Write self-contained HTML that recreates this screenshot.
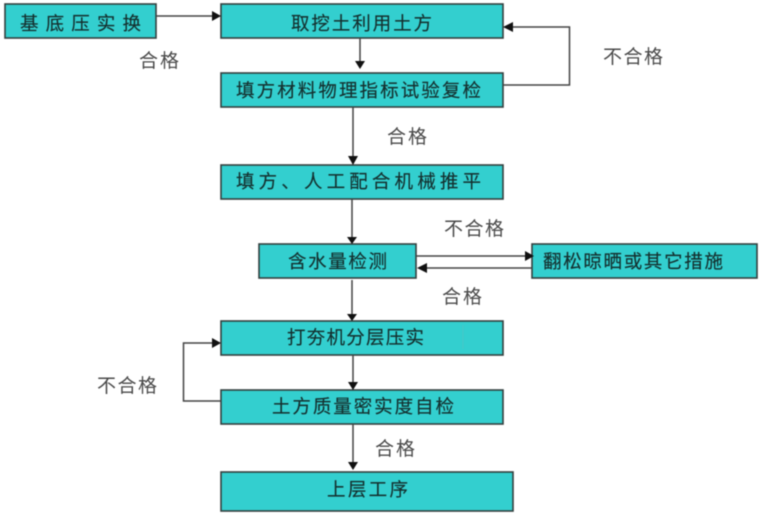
<!DOCTYPE html>
<html>
<head>
<meta charset="utf-8">
<style>
html,body{margin:0;padding:0;background:#fff}
body{width:760px;height:516px;overflow:hidden}
svg{display:block;filter:blur(0.45px)}
text{font-family:"Liberation Sans","Noto Sans CJK SC",sans-serif}
.b text{font-size:18.5px;fill:#14302f;stroke:#14302f;stroke-width:0.15}
.l text{font-size:19px;fill:#4a4a4a}
rect{fill:#33cfcf;stroke:#34403f;stroke-width:1.6}
.c{fill:none;stroke:#444;stroke-width:1.5}
.a{fill:#111}
</style>
</head>
<body>
<svg width="760" height="516" viewBox="0 0 760 516">
<rect x="5" y="4" width="151" height="34"/>
<rect x="221" y="4" width="282" height="34"/>
<rect x="221" y="73" width="282" height="34"/>
<rect x="221" y="165" width="282" height="34"/>
<rect x="259" y="244" width="157" height="34"/>
<rect x="532" y="244" width="225" height="34"/>
<rect x="221" y="321" width="282" height="34"/>
<rect x="221" y="390" width="282" height="34"/>
<rect x="221" y="472" width="292" height="39"/>
<path d="M463 325V349" fill="none" stroke="#4fc4c4" stroke-width="0.8"/>

<path class="c" d="M156 16H214"/><path class="a" d="M212 11L221 16L212 21Z"/>
<path class="c" d="M360 38V62"/><path class="a" d="M355 61H365L360 69Z"/>
<path class="c" d="M503 85H569.500V27H510"/><path class="a" d="M513 22V32L503 27Z"/>
<path class="c" d="M353 107V158"/><path class="a" d="M348 156H358L353 165Z"/>
<path class="c" d="M352 199V237"/><path class="a" d="M347 237H357L352 244Z"/>
<path class="c" d="M416 256H525"/><path class="a" d="M525 251L534 256L525 261Z"/>
<path class="c" d="M532 268H425"/><path class="a" d="M427 263V273L417 268Z"/>
<path class="c" d="M352 280V314"/><path class="a" d="M347 314H357L352 321Z"/>
<path class="c" d="M353 355V384"/><path class="a" d="M348 382H358L353 390Z"/>
<path class="c" d="M221 401H183.500V343H214"/><path class="a" d="M212 338L221 343L212 348Z"/>
<path class="c" d="M353 424V464"/><path class="a" d="M348 462H358L353 470Z"/>

<g class="b">
<text x="20" y="30" textLength="121" lengthAdjust="spacing">基底压实换</text>
<text x="291" y="30" textLength="141" lengthAdjust="spacing">取挖土利用土方</text>
<text x="236" y="97" textLength="245" lengthAdjust="spacing">填方材料物理指标试验复检</text>
<text x="236" y="188" textLength="245" lengthAdjust="spacing">填方、人工配合机械推平</text>
<text x="288" y="268" textLength="99" lengthAdjust="spacing">含水量检测</text>
<text x="543" y="268" textLength="180" lengthAdjust="spacing">翻松晾晒或其它措施</text>
<text x="287" y="344" textLength="137" lengthAdjust="spacing">打夯机分层压实</text>
<text x="272" y="413" textLength="182" lengthAdjust="spacing">土方质量密实度自检</text>
<text x="327" y="496" textLength="81" lengthAdjust="spacing">上层工序</text>
</g>
<g class="l">
<text x="139" y="67" textLength="40" lengthAdjust="spacing">合格</text>
<text x="603" y="63" textLength="60" lengthAdjust="spacing">不合格</text>
<text x="387" y="143" textLength="40" lengthAdjust="spacing">合格</text>
<text x="444" y="235" textLength="60" lengthAdjust="spacing">不合格</text>
<text x="442" y="303" textLength="40" lengthAdjust="spacing">合格</text>
<text x="97" y="392" textLength="60" lengthAdjust="spacing">不合格</text>
<text x="375" y="455" textLength="40" lengthAdjust="spacing">合格</text>
</g>
</svg>
</body>
</html>
